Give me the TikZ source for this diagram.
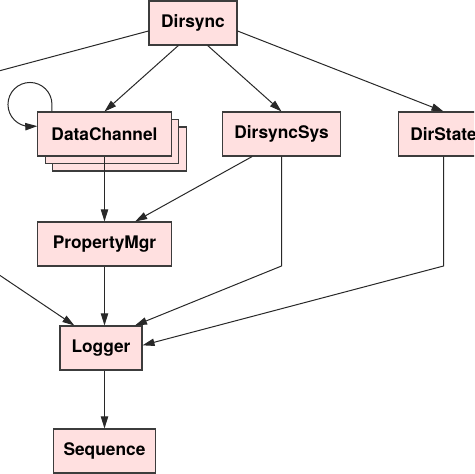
\documentclass[tikz,border=0pt]{standalone}
\usepackage{fontspec}
\setmainfont{TeX Gyre Heros}
\usetikzlibrary{arrows.meta}
\definecolor{boxpink}{RGB}{255,224,224}
\definecolor{boxedge}{RGB}{60,60,60}
\definecolor{wire}{RGB}{40,40,40}

\begin{document}
\begin{tikzpicture}[x=0.75pt, y=-0.75pt,
    module/.style={draw=boxedge, line width=0.8pt, fill=boxpink, minimum height=33pt,
        inner sep=0pt, font=\fontsize{13}{15}\selectfont\bfseries},
    uses/.style={draw=wire, line width=0.75pt, -{Triangle[length=9pt,width=5.5pt]}}]
    \useasboundingbox (0,0) rectangle (474,474);
    \clip (0,0) rectangle (474,474);

    \node[module, minimum width=66pt] (dsync) at (193,23) {Dirsync};
    \node[module, minimum width=100pt] (dccopyb) at (119.5,149) {};
    \node[module, minimum width=100pt] (dccopya) at (112,141.5) {};
    \node[module, minimum width=100pt] (dc) at (104.5,134) {DataChannel};
    \node[module, minimum width=88pt] (dsys) at (281.5,134) {DirsyncSys};
    \node[module, minimum width=67pt] (dstate) at (443.5,134) {DirState};
    \node[module, minimum width=100pt] (pmgr) at (104.5,244) {PropertyMgr};
    \node[module, minimum width=61.5pt] (logger) at (101,348) {Logger};
    \node[module, minimum width=77pt] (seq) at (104.5,451) {Sequence};

    \coordinate (offa) at (-20,76);
    \coordinate (offb) at (-20,262);
    \coordinate (dsysbend) at (281.5,266);
    \coordinate (dstbend) at (443.5,266);

    \draw[uses] ([xshift=-11pt]dsync.south) -- (dc.north);
    \draw[uses] ([xshift=11pt]dsync.south) -- (dsys.north);
    \draw[uses] ([yshift=-6pt]dsync.east) -- (dstate.north);
    \draw[uses] ([yshift=-6pt]dsync.west) -- (offa) -- (offb) -- ([xshift=-20pt]logger.north);
    \draw[uses] ([xshift=11pt]dc.north west) -- ++(0,-7) arc[start angle=0, end angle=-270, radius=22]
        -- ([yshift=-11pt]dc.north west);
    \draw[uses] (dc.south) -- (pmgr.north);
    \draw[uses] ([xshift=-22pt]dsys.south) -- ([xshift=23pt]pmgr.north);
    \draw[uses] (pmgr.south) -- (pmgr.south |- logger.north);
    \draw[uses] (dsys.south) -- (dsysbend) -- ([xshift=25.5pt]logger.north);
    \draw[uses] (dstate.south) -- (dstbend) -- ([yshift=2pt]logger.east);
    \draw[uses] (seq.north |- logger.south) -- (seq.north);
\end{tikzpicture}
\end{document}
